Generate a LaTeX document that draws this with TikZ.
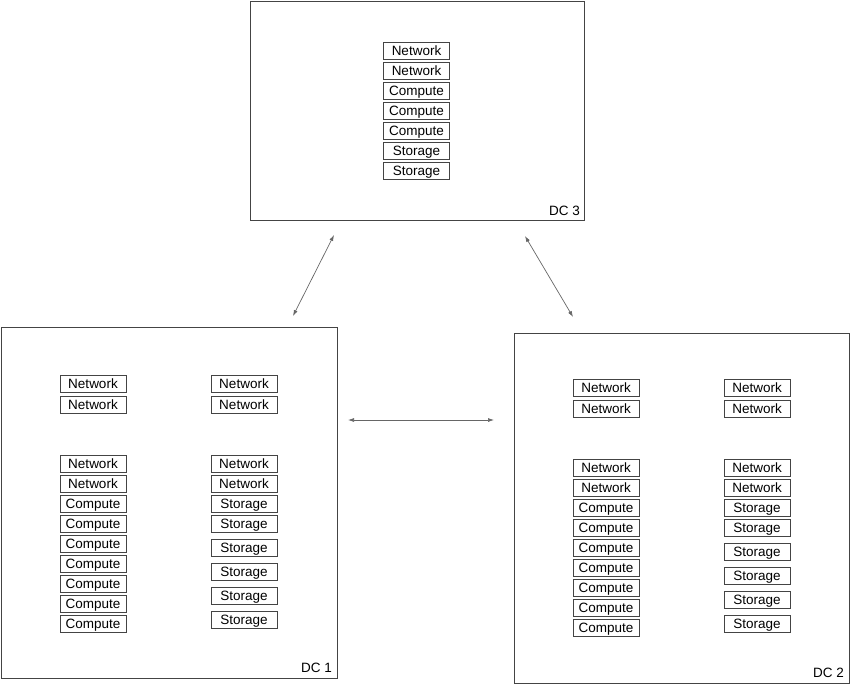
\documentclass[tikz,border=0pt]{standalone}
\usepackage{fontspec}
\setmainfont{Liberation Sans}
\usetikzlibrary{arrows.meta}
\definecolor{edge}{HTML}{444444}
\definecolor{link}{HTML}{666666}
\begin{document}
\begin{tikzpicture}[x=1pt,y=-1pt,
  dcbox/.style={draw=edge,line width=1pt,inner sep=0pt},
  item/.style={draw=edge,line width=0.9pt,minimum width=66pt,minimum height=16.5pt,inner sep=0pt,
    text height=9.7pt,text depth=0pt,font=\fontsize{13.5}{15}\selectfont},
  dclabel/.style={anchor=base east,inner sep=0pt,font=\fontsize{13.5}{15}\selectfont},
  link/.style={draw=link,line width=0.7pt,{Latex[length=6pt,width=4pt]}-{Latex[length=6pt,width=4pt]}}]
\useasboundingbox (0,0) rectangle (850,686);
% outer boxes
\node[dcbox,minimum width=334pt,minimum height=219pt] (dc3) at (417,110.5) {};
\node[dcbox,minimum width=336pt,minimum height=351pt] (dc1) at (169,502.5) {};
\node[dcbox,minimum width=335pt,minimum height=350pt] (dc2) at (681.5,508) {};
\node[dclabel] (dc3l) at (580,215) {DC 3};
\node[dclabel] (dc1l) at (332,672) {DC 1};
\node[dclabel] (dc2l) at (844,677) {DC 2};
% DC3 stack
\foreach \y/\t [count=\i] in {51/Network,71/Network,91/Compute,111/Compute,131/Compute,151/Storage,171/Storage}
  \node[item] (c\i) at (416.5,\y) {\t};
% DC1 and DC2 columns
\foreach \dx/\dy/\n in {0/0/a,513/4/b}{
  \foreach \y/\t [count=\i] in {384/Network,405/Network,464/Network,484/Network,504/Compute,524/Compute,544/Compute,564/Compute,584/Compute,604/Compute,624/Compute}
    \node[item] (\n l\i) at (93+\dx,\y+\dy) {\t};
  \foreach \y/\t [count=\i] in {384/Network,405/Network,464/Network,484/Network,504/Storage,524/Storage,548/Storage,572/Storage,596/Storage,620/Storage}
    \node[item] (\n r\i) at (244+\dx,\y+\dy) {\t};
}
% connectors
\coordinate (p1) at (293,316);
\coordinate (p3a) at (334,235);
\coordinate (p3b) at (525,236);
\coordinate (p2) at (573,317);
\coordinate (h1) at (348,420);
\coordinate (h2) at (494,420);
\draw[link] (p1) -- (p3a);
\draw[link] (p3b) -- (p2);
\draw[link] (h1) -- (h2);
\end{tikzpicture}
\end{document}
